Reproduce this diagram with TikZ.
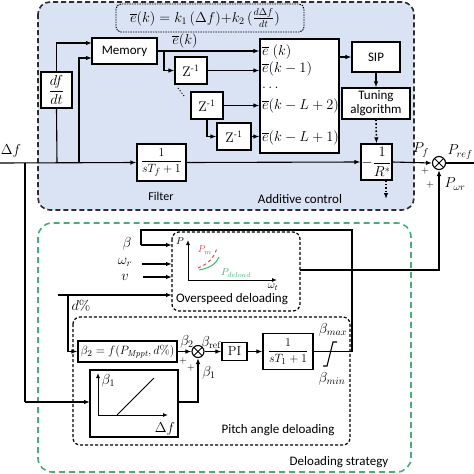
\documentclass[tikz,border=0pt]{standalone}
\usepackage{amsmath}
\usepackage{fontspec}
\newfontfamily\calib{Carlito}
\usetikzlibrary{arrows.meta,calc}
\definecolor{bluefill}{RGB}{218,227,243}
\definecolor{dgreen}{RGB}{70,175,120}
\definecolor{pmred}{RGB}{220,70,80}
\definecolor{pdgreen}{RGB}{60,180,110}
\definecolor{dashgray}{RGB}{45,45,50}
\begin{document}
\begin{tikzpicture}[x=1pt,y=-1pt,line width=1.1pt,
  >={Latex[length=6pt,width=4.5pt]},
  every node/.style={font=\fontsize{14}{16}\selectfont, inner sep=1pt},
  blk/.style={draw, fill=white, inner sep=0pt, line width=1.2pt},
  lab/.style={font=\calib\fontsize{13}{15}\selectfont},
  smalllab/.style={font=\fontsize{10}{12}\selectfont},
  region/.style={draw=dashgray, line width=1.6pt, dash pattern=on 5pt off 3pt, rounded corners=12pt},
  gregion/.style={draw=dgreen, line width=1.6pt, dash pattern=on 6pt off 4pt, rounded corners=14pt},
  subregion/.style={draw=black, line width=1.2pt, dash pattern=on 3pt off 2pt, rounded corners=7pt},
  sumnode/.style={circle, draw, fill=white, minimum size=13pt, inner sep=0pt, line width=1.1pt,
    path picture={\draw[line width=0.9pt] (path picture bounding box.north west) -- (path picture bounding box.south east)
      (path picture bounding box.north east) -- (path picture bounding box.south west);}},
  dotarr/.style={->, dotted, line width=1.6pt}
]
\useasboundingbox (0,0) rectangle (474,474);

% ===== regions =====
\draw[region, fill=bluefill] (38,2) rectangle (414,210);
\draw[gregion] (38,223) rectangle (411,472);
\draw[subregion] (172,232) rectangle (300,311);
\draw[subregion] (73,317) rectangle (350,445);
\draw[draw=black, line width=0.9pt, dash pattern=on 1.5pt off 1pt, rounded corners=5pt] (116,4) rectangle (304,32);

\node (eq) at (205,18) {$\overline{e}(k)=k_1\,(\Delta f){+}k_2\,(\tfrac{d\Delta f}{dt})$};

% ===== additive control blocks =====
\node[blk, minimum width=65pt, minimum height=26pt, lab] (mem) at (124.5,51) {Memory};
\node[blk, minimum width=31pt, minimum height=36pt] (dfdt) at (56.5,90) {$\dfrac{df}{dt}$};
\node[blk, minimum width=49pt, minimum height=37pt, font=\fontsize{13}{15}\selectfont] (filt) at (161.5,162.5) {$\dfrac{1}{sT_f+1}$};
\node[blk, minimum width=32pt, minimum height=27pt] (z1) at (191,70.5) {Z\textsuperscript{-1}};
\node[blk, minimum width=32pt, minimum height=27pt] (z2) at (207,105.5) {Z\textsuperscript{-1}};
\node[blk, minimum width=34pt, minimum height=27pt] (z3) at (234,136.5) {Z\textsuperscript{-1}};
\node[blk, minimum width=79pt, minimum height=114pt] (big) at (299.5,96) {};
\node[anchor=west] (t1l) at (260.5,52) {$\overline{e}\;(k)$};
\node[anchor=west] (t2l) at (260.5,69) {$\overline{e}(k-1)$};
\node[anchor=west] (t3l) at (260.5,88) {$\dots$};
\node[anchor=west] (t4l) at (260.5,106) {$\overline{e}(k-L+2)$};
\node[anchor=west] (t5l) at (260.5,138) {$\overline{e}(k-L+1)$};
\node[blk, minimum width=48pt, minimum height=30pt, lab] (sip) at (376,57) {SIP};
\node[blk, minimum width=68pt, minimum height=31pt, lab, align=center, font=\calib\fontsize{13}{14}\selectfont] (tun) at (376,103.5) {Tuning\\algorithm};
\node[blk, minimum width=31pt, minimum height=36pt] (rr) at (376.5,162) {$-\dfrac{1}{R^{*}}$};
\node[sumnode] (sum1) at (439,163) {};

\coordinate (din) at (0,163);
\coordinate (dout) at (474,163);
\coordinate (br0) at (25,163);
\coordinate (brd) at (57,163);
\coordinate (brm) at (79,163);
\coordinate (m1) at (92,43);
\coordinate (m2) at (92,58);
\coordinate (mb) at (164,51);
\coordinate (rrb) at (386,180);
\coordinate (rre) at (386,199);

\draw[->] (din) -- (filt.west);
\draw[->] (filt.east) -- (rr.west);
\draw[->] (rr.east) -- (sum1.west);
\draw (sum1.east) -- (dout);
\draw (brd) -- (dfdt.south);
\draw[->] (dfdt.north) |- (m1);
\draw[->] (brm) |- (m2);
\draw[->] (mem.east) -- (mem.east -| big.west);
\draw[->] (mb) |- (z1.west);
\draw[->] (z1.east) -- (z1.east -| big.west);
\draw[->] (z2.east) -- (z2.east -| big.west);
\draw[->] (z3.east) -- (z3.east -| big.west);
\draw[->] (z2.south) |- (z3.west);
\draw[dotted, line width=1pt] (178,88) -- (184,96);
\draw[->] (big.east |- sip.west) -- (sip.west);
\draw[->] (sip.south) -- (tun.north);
\draw[dotarr] (tun.south) -- (rr.north);
\draw[dotarr] (rrb) -- (rre);

\node (ek) at (185,41) {$\overline{e}(k)$};
\node (df) at (11,151) {$\Delta f$};
\node[lab, font=\calib\fontsize{12}{14}\selectfont] (filtl) at (161,196) {Filter};
\node[lab] (addl) at (300,199) {Additive control};
\node (pf) at (421,150) {$P_f$};
\node (pref) at (460,152) {$P_{ref}$};
\node[smalllab] (pl1) at (425,171) {$+$};
\node[smalllab] (pl2) at (430,185) {$+$};
\node (pwr) at (455,184) {$P_{\omega r}$};

% ===== deloading strategy =====
\node[lab] (ovsl) at (232,299) {Overspeed deloading};
\coordinate (ax0) at (188,280);
\coordinate (axy) at (188,240);
\coordinate (axx) at (277,280);
\draw[->, line width=1pt, >={Latex[length=5pt,width=4pt]}] (ax0) -- (axy);
\draw[->, line width=1pt, >={Latex[length=5pt,width=4pt]}] (ax0) -- (axx);
\node[font=\fontsize{10}{12}\selectfont] (pax) at (180,241) {$P$};
\node[font=\fontsize{11}{12}\selectfont, inner sep=0pt] (wt) at (273,287) {$\omega_t$};
\draw[pmred, dashed, line width=1pt] (198,268) .. controls (208,264) and (214,258) .. (217,248);
\draw[pdgreen, line width=1pt] (199,270) .. controls (210,268) and (216,264) .. (219,257);
\node[pmred, font=\fontsize{10}{12}\selectfont] (pm) at (205,250) {$P_m$};
\node[pdgreen, font=\fontsize{10}{12}\selectfont] (pdl) at (236,273) {$P_{deload}$};

\coordinate (ovb) at (172,245);
\coordinate (ovw) at (172,264);
\coordinate (ovv) at (172,277);
\coordinate (ovd) at (172,295);
\coordinate (ovo) at (300,270);
\coordinate (wst) at (142,264);
\coordinate (vst) at (143,277);
\coordinate (dst) at (58,295);
\coordinate (dbr) at (68,295);

\node (beta) at (127,244) {$\beta$};
\node (wr) at (125,262) {$\omega_r$};
\node (vv) at (125,277) {$v$};
\node (dp) at (81,306) {$d\%$};
\draw[->] (wst) -- (ovw);
\draw[->] (vst) -- (ovv);
\draw[->] (dst) -- (ovd);
\draw[->] (ovo) -| (sum1.south);

\node[blk, minimum width=99pt, minimum height=21pt, font=\fontsize{12.5}{14}\selectfont] (b2) at (127.5,351.5) {$\beta_2=f(P_{\mathit{Mppt}},d\%)$};
\node[sumnode, minimum size=12pt] (sum2) at (198,351.5) {};
\node[blk, minimum width=25pt, minimum height=18pt, font=\fontsize{13}{15}\selectfont] (pi) at (234.5,351.5) {PI};
\node[blk, minimum width=50pt, minimum height=36pt, font=\fontsize{13}{15}\selectfont] (t1) at (288,351.5) {$\dfrac{1}{sT_1+1}$};
\node[blk, minimum width=88pt, minimum height=67pt] (b1box) at (134,403.5) {};

\coordinate (satb) at (352,351.5);
\coordinate (satt) at (352,230);
\coordinate (fbl) at (141,230);
\coordinate (fbd) at (141,245);
\coordinate (b1in) at (90,402);
\coordinate (brb) at (25,402);
\coordinate (b1o) at (178,402);

\draw[->] (dbr) |- (b2.west);
\draw[->] (b2.east) -- (sum2.west);
\draw[->] (sum2.east) -- (pi.west);
\draw[->] (pi.east) -- (t1.west);
\draw (t1.east) -- (satb) -- (satt) -- (fbl) -- (fbd);
\draw[->] (fbd) -- (ovb);
\draw (323,366) -- (327,366) -- (333,342) -- (337,342);
\draw (br0) -- (brb);
\draw[->] (brb) -- (b1in);
\draw[->] (b1o) -| (sum2.south);

% beta1 graph
\coordinate (g0) at (98,415);
\coordinate (gy) at (98,373);
\coordinate (gx) at (168,415);
\draw[->, line width=1pt, >={Latex[length=5pt,width=4pt]}] (g0) -- (gy);
\draw[->, line width=1pt, >={Latex[length=5pt,width=4pt]}] (g0) -- (gx);
\draw[line width=1pt] (117,415) -- (154,378);
\node[anchor=west] (gb1) at (100,381) {$\beta_1$};
\node (gdf) at (165,429) {$\Delta f$};

\node (lb2) at (187,342) {$\beta_2$};
\node (lbref) at (211,343) {$\beta_{\mathrm{ref}}$};
\node[smalllab] (pl3) at (183,361) {$+$};
\node[smalllab] (pl4) at (191,368) {$+$};
\node (lb1) at (209,373) {$\beta_1$};
\node (bmax) at (333,330) {$\beta_{max}$};
\node (bmin) at (332,379) {$\beta_{min}$};

\node[lab] (pitchl) at (278,430) {Pitch angle deloading};
\node[lab] (dell) at (339,462) {Deloading strategy};
\end{tikzpicture}
\end{document}
